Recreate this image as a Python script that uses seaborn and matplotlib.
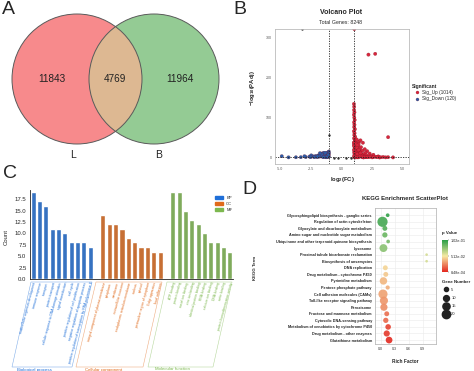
import pandas as pd
import seaborn as sns
import matplotlib.pyplot as plt
from matplotlib.patches import Circle, Patch, Polygon
from matplotlib.lines import Line2D
from matplotlib.colors import LinearSegmentedColormap, Normalize
from matplotlib.cm import ScalarMappable

sns.set_style("white")
plt.rcParams["font.family"] = ["Liberation Sans", "DejaVu Sans"]
plt.rcParams["mathtext.default"] = "regular"

W, H = 474, 371

# -----------------------------
# Data
# -----------------------------

# A - Venn
venn_sets = ["L", "B"]
venn_counts = [11843, 4769, 11964]   # L only, both, B only

# B - Volcano
total_genes = 8248
n_up, n_down = 1014, 120
up_fc = [1.05, 2.2, 2.75, 3.8, 1.02, 1.04, 1.03, 1.06, 1.02, 1.05, 1.08, 1.03, 1.06, 1.04,
         1.1, 1.02, 1.07, 1.05, 1.12, 1.03, 1.09, 1.18, 1.04, 1.45, 1.75, 1.25, 1.06, 1.15,
         1.38, 1.6, 1.08, 1.28, 1.9, 1.5, 1.12, 1.7, 2.1, 1.35, 1.05, 1.55, 1.95, 1.22, 2.3,
         1.42, 1.1, 1.8, 2.6, 1.3, 2.05, 1.6, 1.08, 2.4, 1.45, 1.85, 3.0, 1.2, 2.2, 2.8, 1.65,
         3.4, 1.03, 2.0, 3.8, 1.35, 2.5, 4.2, 1.8, 3.1, 1.15, 1.25, 1.55, 1.4, 1.15, 1.3,
         1.02, 1.05, 1.1, 1.15, 1.2, 1.25, 1.3, 1.35, 1.4, 1.45, 1.5, 1.6, 1.7, 1.02, 1.08,
         1.12, 1.18, 1.22, 1.28, 1.33, 1.02, 1.06, 1.1, 1.14, 1.04, 1.2, 1.4, 1.5, 1.65, 1.75,
         1.9, 2.1, 2.3, 2.6, 2.9, 3.2, 3.6, 1.3, 1.55, 1.25, 1.4, 1.18, 1.3]
up_p = [322, 258, 260, 52, 135, 128, 120, 114, 108, 101, 95, 89, 83, 77,
        72, 67, 62, 57, 53, 49, 45, 42, 39, 41, 38, 36, 34, 31,
        29, 27, 25, 23, 22, 21, 19, 18, 17, 16, 15, 14, 13, 12, 11,
        10, 9, 9, 8, 7, 7, 6, 5, 5, 4, 4, 4, 3, 3, 3, 2.5,
        2.5, 2, 2, 2, 1.6, 1.6, 1.5, 1.4, 1.4, 1.5, 46, 44, 35, 27, 20,
        38, 33, 28, 24, 21, 18, 16, 14, 12, 10, 9, 8, 6, 30, 22,
        17, 13, 9, 6, 4, 20, 12, 7, 3, 6, 1.8, 2.5, 6, 4, 3,
        2.5, 2, 2.5, 2, 2.2, 1.8, 1.6, 10, 12, 26, 20, 35, 32]
down_fc = [-1.02, -1.08, -1.15, -1.25, -1.05, -1.35, -1.12, -1.5, -1.7, -1.2, -1.4, -1.9,
           -2.1, -1.08, -1.6, -2.3, -1.3, -1.85, -2.6, -1.15, -2.0, -2.9, -3.3, -3.7, -4.3,
           -4.85, -1.45, -1.65, -2.45, -3.0, -1.05, -1.25,
           -1.02, -1.1, -1.18, -1.28, -1.38, -1.5, -1.55, -1.7, -1.8, -1.02, -1.15, -1.3,
           -1.6, -1.75, -1.05, -1.2, -1.45, -1.95, -2.2, -2.5]
down_p = [16, 14, 12, 11, 10, 9, 8, 8, 7, 6, 5.5, 6,
          5, 4, 4, 4, 3, 3, 3.5, 2, 2.5, 2.2, 2, 1.8, 1.6,
          4.5, 13, 11, 6.5, 4.5, 6, 1.8,
          12, 10, 7, 5, 7, 3, 6, 4, 5, 3, 4.5, 13,
          9, 12, 8, 2.5, 2, 3.5, 2, 2]
ns_fc = [-3.2, -1.0, -0.6, 0.4, 0.8, -0.3]
ns_p = [322, 57, 1.0, 0.8, 1.1, 0.6]

# C - GO
bp_terms = ["multicellular organism development", "immune response", "transport",
            "protein transport", "cellular response to DNA damage stimulus",
            "signal transduction", "cell cycle", "positive regulation of cell proliferation",
            "negative regulation of apoptotic process",
            "positive regulation of transcription by RNA polymerase II"]
bp_counts = [19, 17, 16, 11, 11, 10, 8, 8, 8, 7]
cc_terms = ["integral component of plasma membrane", "cytoplasm", "membrane",
            "extracellular exosome", "endoplasmic reticulum membrane", "nucleus",
            "cytosol", "perinuclear region of cytoplasm", "Golgi apparatus", "focal adhesion"]
cc_counts = [14, 12, 12, 11, 9, 8, 7, 7, 6, 6]
mf_terms = ["ATP binding", "protein binding", "metal ion binding", "zinc ion binding",
            "identical protein binding", "RNA binding", "calcium ion binding",
            "DNA binding", "actin binding", "protein homodimerization activity"]
mf_counts = [19, 19, 15, 13, 12, 10, 8, 8, 7, 6]

# D - KEGG
kegg_terms = ["Glycosphingolipid biosynthesis - ganglio series",
              "Regulation of actin cytoskeleton",
              "Glyoxylate and dicarboxylate metabolism",
              "Amino sugar and nucleotide sugar metabolism",
              "Ubiquinone and other terpenoid-quinone biosynthesis",
              "Lysosome",
              "Proximal tubule bicarbonate reclamation",
              "Biosynthesis of ansamycins",
              "DNA replication",
              "Drug metabolism - cytochrome P450",
              "Pyrimidine metabolism",
              "Pentose phosphate pathway",
              "Cell adhesion molecules (CAMs)",
              "Toll-like receptor signaling pathway",
              "Peroxisome",
              "Fructose and mannose metabolism",
              "Cytosolic DNA-sensing pathway",
              "Metabolism of xenobiotics by cytochrome P450",
              "Drug metabolism - other enzymes",
              "Glutathione metabolism"]
kegg_rich = [0.15, 0.04, 0.09, 0.09, 0.16, 0.06, 0.98, 0.98, 0.10, 0.11,
             0.06, 0.15, 0.05, 0.07, 0.07, 0.13, 0.11, 0.16, 0.13, 0.18]
kegg_genes = [4, 30, 7, 8, 4, 18, 2, 2, 7, 7,
              16, 5, 24, 19, 15, 7, 8, 9, 11, 13]
kegg_p = [0.100, 0.095, 0.092, 0.086, 0.083, 0.078, 0.060, 0.060, 0.046, 0.043,
          0.038, 0.036, 0.033, 0.030, 0.028, 0.020, 0.018, 0.008, 0.006, 0.002]


def box(x0, y0, x1, y1):
    return [x0 / W, 1 - y1 / H, (x1 - x0) / W, (y1 - y0) / H]


fig = plt.figure(figsize=(W / 100, H / 100), dpi=100)

# -----------------------------
# A - Venn
# -----------------------------
axA = fig.add_axes(box(0, 0, 237, 175))
axA.set_xlim(0, 237)
axA.set_ylim(175, 0)
axA.axis("off")
cL = Circle((77, 79), 65, fc="#F78A8C", ec="none")
cB = Circle((154, 79), 65, fc="#94CB94", ec="none")
axA.add_patch(cL)
axA.add_patch(cB)
cX = Circle((77, 79), 65, fc="#DDB892", ec="none")
axA.add_patch(cX)
cX.set_clip_path(cB)
for c in [(77, 79), (154, 79)]:
    axA.add_patch(Circle(c, 65, fill=False, ec="#5a5a5a", lw=0.7))
for x, n in zip([52, 115, 180], venn_counts):
    axA.text(x, 79, str(n), ha="center", va="center", fontsize=7.2, color="#222222")
for x, s in zip([73, 159], venn_sets):
    axA.text(x, 155, s, ha="center", va="center", fontsize=7.5, color="#222222")

# -----------------------------
# B - Volcano
# -----------------------------
axB = fig.add_axes(box(275, 29, 409, 164))
up_lab = f"Sig_Up ({n_up})"
down_lab = f"Sig_Down ({n_down})"
df_v = pd.DataFrame({
    "fc": up_fc + down_fc,
    "p": up_p + down_p,
    "sig": [up_lab] * len(up_fc) + [down_lab] * len(down_fc),
})
sns.scatterplot(data=df_v, x="fc", y="p", hue="sig",
                palette={up_lab: "#D7263D", down_lab: "#2A5CA8"},
                s=6, linewidth=0.15, edgecolor="#7a0f1c", ax=axB)
sns.scatterplot(x=ns_fc, y=ns_p, color="#333333", s=3, linewidth=0, ax=axB, legend=False)
axB.axvline(-1, color="#222222", ls=(0, (1.5, 1.5)), lw=0.6)
axB.axvline(1, color="#222222", ls=(0, (1.5, 1.5)), lw=0.6)
axB.axhline(1.3, color="#222222", ls=(0, (1.5, 1.5)), lw=0.6)
axB.set_xlim(-5.4, 5.5)
axB.set_ylim(-15, 322)
axB.set_xticks([-5, -2.5, 0, 2.5, 5])
axB.set_xticklabels(["-5.0", "-2.5", "0.0", "2.5", "5.0"])
axB.set_yticks([0, 100, 200, 300])
axB.tick_params(labelsize=2.6, colors="#555555", length=1.5, width=0.4, pad=1)
for sp in axB.spines.values():
    sp.set_color("#BBBBBB")
    sp.set_linewidth(0.6)
axB.set_xlabel("log$_2$(FC)", fontsize=4.2, fontweight="bold")
axB.set_ylabel("\u2212log$_{10}$(PAdj)", fontsize=4.2, fontweight="bold")
axB.xaxis.set_label_coords(0.5, -0.085)
axB.yaxis.set_label_coords(-0.135, 0.56)
h, l = axB.get_legend_handles_labels()
legB = axB.legend(h, l, title="Significant", loc="upper left", bbox_to_anchor=(1.01, 0.61),
                  frameon=False, fontsize=3.4, title_fontsize=3.5, alignment="left",
                  handletextpad=0.1, borderaxespad=0, labelspacing=0.3, markerscale=0.9)
legB.get_title().set_fontweight("bold")

# -----------------------------
# C - GO bar chart
# -----------------------------
axC = fig.add_axes(box(30, 190, 233, 279))
go_colors = {"BP": "#1F6FD8", "CC": "#E06A1B", "MF": "#7DB84F"}
df_go = pd.DataFrame({
    "term": bp_terms + cc_terms + mf_terms,
    "count": bp_counts + cc_counts + mf_counts,
    "group": ["BP"] * 10 + ["CC"] * 10 + ["MF"] * 10,
})
order = bp_terms + [" "] + cc_terms + ["  "] + mf_terms
sns.barplot(data=df_go, x="term", y="count", hue="group", order=order,
            palette=go_colors, dodge=False, width=0.8, legend=False, ax=axC)
axC.set_xlim(-0.5, len(order) - 0.5)
axC.set_ylim(0, 19.5)
axC.set_yticks([0, 2.5, 5, 7.5, 10, 12.5, 15, 17.5])
axC.set_yticklabels(["0.0", "2.5", "5.0", "7.5", "10.0", "12.5", "15.0", "17.5"])
axC.tick_params(axis="y", labelsize=4.3, length=1.5, width=0.5, pad=1)
axC.set_xticks(range(len(order)))
axC.set_xticklabels(order, rotation=75, ha="right", rotation_mode="anchor", fontsize=2.4)
axC.tick_params(axis="x", length=0, pad=2)
lab_col = {**{t: go_colors["BP"] for t in bp_terms}, **{t: go_colors["CC"] for t in cc_terms},
           **{t: go_colors["MF"] for t in mf_terms}}
for tl in axC.get_xticklabels():
    tl.set_color(lab_col.get(tl.get_text(), "white"))
sns.despine(ax=axC)
for sp in ["left", "bottom"]:
    axC.spines[sp].set_linewidth(0.6)
    axC.spines[sp].set_color("#222222")
axC.set_xlabel("")
axC.set_ylabel("Count", fontsize=4.3)
axC.yaxis.set_label_coords(-0.105, 0.47)
axC.legend(handles=[Patch(color=go_colors[g], label=g) for g in go_colors],
           loc="upper right", bbox_to_anchor=(236 / W, 1 - 192 / H),
           bbox_transform=fig.transFigure, frameon=False, fontsize=3,
           handlelength=2, handleheight=0.8, labelspacing=0.5, handletextpad=0.8)

# -----------------------------
# D - KEGG scatter
# -----------------------------
axD = fig.add_axes(box(375, 208, 436, 344))
kegg_cmap = LinearSegmentedColormap.from_list("kegg", ["#E3261E", "#F6E9A3", "#2A9E45"])
p_norm = Normalize(8.48e-4, 1.02e-1)
df_k = pd.DataFrame({"term": kegg_terms, "rich": kegg_rich,
                     "genes": kegg_genes, "p": kegg_p})
sns.scatterplot(data=df_k, x="rich", y="term", hue="p", palette=kegg_cmap, hue_norm=p_norm,
                size="genes", sizes=(1.8 * min(kegg_genes), 1.8 * max(kegg_genes)),
                size_norm=(min(kegg_genes), max(kegg_genes)),
                linewidth=0, alpha=0.9, legend=False, ax=axD)
axD.set_xlim(-0.12, 1.18)
axD.set_ylim(19.6, -1.1)
axD.set_xticks([0, 0.3, 0.6, 0.9])
axD.set_xticklabels(["0.0", "0.3", "0.6", "0.9"])
axD.grid(True, color="#EBEBEB", lw=0.4)
axD.set_axisbelow(True)
axD.tick_params(axis="x", labelsize=2.6, length=1.2, width=0.4, pad=1, colors="#333333")
axD.tick_params(axis="y", labelsize=2.7, length=1.2, width=0.4, pad=1)
for tl in axD.get_yticklabels():
    tl.set_fontweight("bold")
for sp in axD.spines.values():
    sp.set_color("#BBBBBB")
    sp.set_linewidth(0.6)
axD.set_xlabel("Rich Factor", fontsize=3.4, fontweight="bold")
axD.set_ylabel("KEGG Term", fontsize=3.2, fontweight="bold")
axD.xaxis.set_label_coords(0.49, -0.11)
axD.yaxis.set_label_coords(-1.93, 0.56)

cax = fig.add_axes(box(442, 240, 448, 272))
cb = fig.colorbar(ScalarMappable(norm=p_norm, cmap=kegg_cmap), cax=cax,
                  ticks=[8.48e-4, 5.12e-2, 1.02e-1])
cb.ax.set_yticklabels(["8.48e-04", "5.12e-02", "1.02e-01"])
cb.ax.tick_params(labelsize=2.7, length=1, width=0.3, pad=1)
cb.outline.set_visible(False)

size_handles = [Line2D([], [], marker="o", ls="", color="#222222",
                       markersize=(1.8 * n) ** 0.5, label=str(n)) for n in [5, 10, 15, 20]]
legD = fig.legend(handles=size_handles, title="Gene Number", loc="upper left",
                  bbox_to_anchor=(440 / W, 1 - 278 / H), frameon=False, fontsize=3,
                  title_fontsize=3.2, alignment="left", labelspacing=1.0,
                  handletextpad=0.3, borderaxespad=0)
legD.get_title().set_fontweight("bold")

# -----------------------------
# Overlay: panel letters, titles, GO group boxes
# -----------------------------
ov = fig.add_axes([0, 0, 1, 1])
ov.set_xlim(0, W)
ov.set_ylim(H, 0)
ov.axis("off")
for s, x, y in [("A", 8, 10), ("B", 240, 10), ("C", 10, 174), ("D", 249, 190)]:
    ov.text(x, y, s, ha="center", va="center", fontsize=14)
ov.text(341, 13, "Volcano Plot", ha="center", va="center", fontsize=5, fontweight="bold")
ov.text(341, 22, f"Total Genes: {total_genes}", ha="center", va="center", fontsize=3.8)
ov.text(405, 199, "KEGG Enrichment ScatterPlot", ha="center", va="center",
        fontsize=4.3, fontweight="bold")
ov.text(442, 233, "p Value", ha="left", va="center", fontsize=3.2, fontweight="bold")

groups = [("Biological process", go_colors["BP"], [(31, 282), (92, 282), (72, 367), (12, 367)], 17),
          ("Cellular component", go_colors["CC"], [(96, 282), (162, 282), (143, 367), (76, 367)], 85),
          ("Molecular function", go_colors["MF"], [(167, 282), (232, 282), (213, 367), (148, 367)], 155)]
for name, col, pts, tx in groups:
    ov.add_patch(Polygon(pts, closed=True, fill=False, ec=col, lw=0.4, alpha=0.55))
    ov.text(tx, 369.5, name, ha="left", va="center", fontsize=3.2, color=col)

fig.savefig("out.png", dpi=100)
